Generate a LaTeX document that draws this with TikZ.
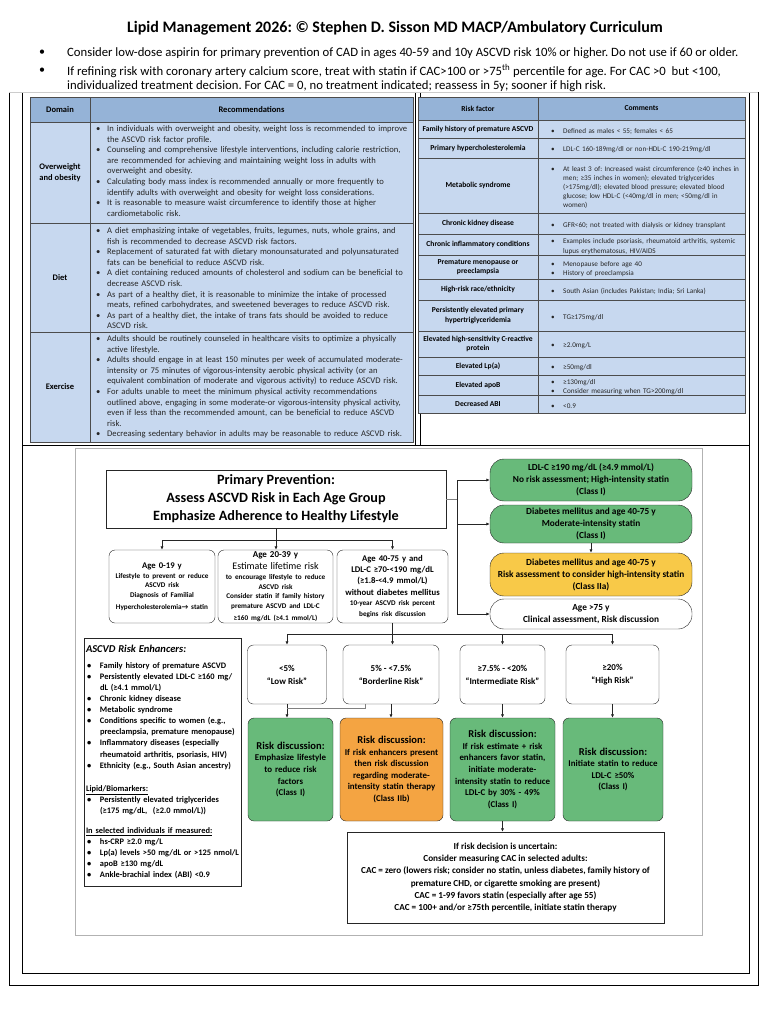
\documentclass[tikz,border=0pt]{standalone}
\usepackage{fontspec}
\setmainfont{Carlito}
\usetikzlibrary{arrows.meta}
\setlength\parindent{0pt}
\frenchspacing

\definecolor{hdrblue}{RGB}{149,179,215}
\definecolor{cellblue}{RGB}{199,216,239}
\definecolor{riskgreen}{RGB}{104,186,122}
\definecolor{riskorange}{RGB}{244,164,66}
\definecolor{riskyellow}{RGB}{248,201,72}

% bullets with hanging indent, for the tables and the enhancer list
\newcommand\tb{\par\hangindent=11pt\hangafter=1\noindent\hbox to 11pt{\textbullet\hfil}}
\newcommand\rb{\par\hangindent=12pt\hangafter=1\noindent\hbox to 12pt{\textbullet\hfil}}
\newcommand\eb{\par\hangindent=14pt\hangafter=1\noindent\hbox to 14pt{\hspace{1pt}\textbullet\hfil}}
\newcommand\nl{\newline}
\newcommand\sm{\fontsize{7.2}{9.7}\selectfont}
\newcommand\md{\fontsize{8.7}{11.4}\selectfont}
\newcommand\rd{\fontsize{10.5}{13.5}\selectfont}

\begin{document}
\begin{tikzpicture}[x=1pt, y=-1pt, >={Latex[length=3.5pt,width=3.2pt]},
	every node/.style={inner sep=0pt},
	tabcell/.style={anchor=north west, align=left, text=black!85, font=\fontsize{8.6}{10.55}\selectfont},
	rcell/.style={anchor=west, align=left, text=black!85, text width=192pt, font=\fontsize{7.2}{9.2}\selectfont},
	lab/.style={align=center, font=\fontsize{7.6}{9.2}\selectfont\bfseries},
	llab/.style={align=center, font=\fontsize{8.5}{10.5}\selectfont\bfseries},
	box/.style={draw=black!85, rounded corners=6pt, align=center, font=\fontsize{8.9}{11.6}\selectfont\bfseries},
	pill/.style={draw=black!85, rounded corners=14pt, minimum width=202pt, align=center, font=\fontsize{9.3}{12}\selectfont\bfseries},
	link/.style={black!85, line width=0.8pt}]
	\useasboundingbox (0,0) rectangle (768,1024);

	% page frame
	\draw[line width=0.9pt] (9,92) -- (9,985) -- (758,985) -- (758,92);
	\draw[line width=0.9pt] (22,445) rectangle (749,973);
	\draw[line width=0.9pt] (22,445) -- (22,92);
	\draw[line width=0.9pt] (415,92) -- (415,445);
	\draw[line width=0.9pt] (420,92) -- (420,445);
	\draw[line width=0.9pt] (749,92) -- (749,445);
	\draw[gray!40] (9,92) -- (758,92);

	% heading
	\node (head) at (395,28) {\fontsize{16}{18}\selectfont\bfseries Lipid Management 2026: © Stephen D. Sisson MD MACP/Ambulatory Curriculum};
	\node (bu1) at (42,53) {\fontsize{12}{15}\selectfont\textbullet};
	\node (bu2) at (42,71) {\fontsize{12}{15}\selectfont\textbullet};
	\node[anchor=west, font=\fontsize{12.7}{15}\selectfont] (aspirin) at (67,53) {Consider low-dose aspirin for primary prevention of CAD in ages 40-59 and 10y ASCVD risk 10\% or higher. Do not use if 60 or older.};
	\node[anchor=west, font=\fontsize{12.7}{15}\selectfont] (cacone) at (67,71) {If refining risk with coronary artery calcium score, treat with statin if CAC>100 or >75\textsuperscript{th} percentile for age. For CAC >0~ but <100,};
	\node[anchor=west, font=\fontsize{12.7}{15}\selectfont] (cactwo) at (67,86) {individualized treatment decision. For CAC = 0, no treatment indicated; reassess in 5y; sooner if high risk.};

	% lifestyle table
	\fill[cellblue] (30,122) rectangle (413,442);
	\fill[hdrblue] (30,97) rectangle (413,122);
	\draw[black!70] (30,97) rectangle (413,442);
	\draw[black!70] (90,97) -- (90,442);
	\foreach \y in {122,223,332} \draw[black!70] (30,\y) -- (413,\y);
	\node[llab] (dom) at (60,109.5) {Domain};
	\node[llab] (rec) at (251.5,109.5) {Recommendations};
	\node[llab] (ow) at (60,172.5) {Overweight\\and obesity};
	\node[llab] (diet) at (60,277.5) {Diet};
	\node[llab] (exer) at (60,387) {Exercise};
	\node[tabcell, text width=316pt] (owtxt) at (96,121) {%
		\tb In individuals with overweight and obesity, weight loss is recommended to improve\nl the ASCVD risk factor profile.
		\tb Counseling and comprehensive lifestyle interventions, including calorie restriction,\nl are recommended for achieving and maintaining weight loss in adults with\nl overweight and obesity.
		\tb Calculating body mass index is recommended annually or more frequently to\nl identify adults with overweight and obesity for weight loss considerations.
		\tb It is reasonable to measure waist circumference to identify those at higher\nl cardiometabolic risk.\par};
	\node[tabcell, text width=316pt] (diettxt) at (96,223) {%
		\tb A diet emphasizing intake of vegetables, fruits, legumes, nuts, whole grains, and\nl fish is recommended to decrease ASCVD risk factors.
		\tb Replacement of saturated fat with dietary monounsaturated and polyunsaturated\nl fats can be beneficial to reduce ASCVD risk.
		\tb A diet containing reduced amounts of cholesterol and sodium can be beneficial to\nl decrease ASCVD risk.
		\tb As part of a healthy diet, it is reasonable to minimize the intake of processed\nl meats, refined carbohydrates, and sweetened beverages to reduce ASCVD risk.
		\tb As part of a healthy diet, the intake of trans fats should be avoided to reduce\nl ASCVD risk.\par};
	\node[tabcell, text width=316pt] (exertxt) at (96,331) {%
		\tb Adults should be routinely counseled in healthcare visits to optimize a physically\nl active lifestyle.
		\tb Adults should engage in at least 150 minutes per week of accumulated moderate-\nl intensity or 75 minutes of vigorous-intensity aerobic physical activity (or an\nl equivalent combination of moderate and vigorous activity) to reduce ASCVD risk.
		\tb For adults unable to meet the minimum physical activity recommendations\nl outlined above, engaging in some moderate-or vigorous-intensity physical activity,\nl even if less than the recommended amount, can be beneficial to reduce ASCVD\nl risk.
		\tb Decreasing sedentary behavior in adults may be reasonable to reduce ASCVD risk.\par};

	% risk factor table
	\fill[cellblue] (418,120) rectangle (745,413);
	\fill[hdrblue] (418,97) rectangle (745,120);
	\draw[black!70] (418,97) rectangle (745,413);
	\draw[black!70] (538,97) -- (538,413);
	\foreach \y in {120,138,158,213,234,255,279,300,331,357,375,395} \draw[black!70] (418,\y) -- (745,\y);
	\node[lab] (rfh) at (478,108.5) {Risk factor};
	\node[lab] (cmh) at (641.5,108.5) {Comments};
	\node[lab] (rf1) at (478,129) {Family history of premature ASCVD};
	\node[lab] (rf2) at (478,148) {Primary hypercholesterolemia};
	\node[lab] (rf3) at (478,185.5) {Metabolic syndrome};
	\node[lab] (rf4) at (478,223.5) {Chronic kidney disease};
	\node[lab] (rf5) at (478,244.5) {Chronic inflammatory conditions};
	\node[lab] (rf6) at (478,267) {Premature menopause or\\preeclampsia};
	\node[lab] (rf7) at (478,289.5) {High-risk race/ethnicity};
	\node[lab] (rf8) at (478,315.5) {Persistently elevated primary\\hypertriglyceridemia};
	\node[lab] (rf9) at (478,344) {Elevated high-sensitivity C-reactive\\protein};
	\node[lab] (rf10) at (478,366) {Elevated Lp(a)};
	\node[lab] (rf11) at (478,385) {Elevated apoB};
	\node[lab] (rf12) at (478,404) {Decreased ABI};
	\node[rcell] (cm1) at (551,129) {\rb Defined as males < 55; females < 65\par};
	\node[rcell] (cm2) at (551,148) {\rb LDL-C 160-189mg/dl or non-HDL-C 190-219mg/dl\par};
	\node[rcell] (cm3) at (551,185.5) {\rb At least 3 of: Increased waist circumference (≥40 inches in\nl men; ≥35 inches in women); elevated triglycerides\nl (>175mg/dl); elevated blood pressure; elevated blood\nl glucose; low HDL-C (<40mg/dl in men; <50mg/dl in\nl women)\par};
	\node[rcell] (cm4) at (551,223.5) {\rb GFR<60; not treated with dialysis or kidney transplant\par};
	\node[rcell] (cm5) at (551,244.5) {\rb Examples include psoriasis, rheumatoid arthritis, systemic\nl lupus erythematosus, HIV/AIDS\par};
	\node[rcell] (cm6) at (551,267) {\rb Menopause before age 40\rb History of preeclampsia\par};
	\node[rcell] (cm7) at (551,289.5) {\rb South Asian (includes Pakistan; India; Sri Lanka)\par};
	\node[rcell] (cm8) at (551,315.5) {\rb TG≥175mg/dl\par};
	\node[rcell] (cm9) at (551,344) {\rb ≥2.0mg/L\par};
	\node[rcell] (cm10) at (551,366) {\rb ≥50mg/dl\par};
	\node[rcell] (cm11) at (551,385) {\rb ≥130mg/dl\rb Consider measuring when TG>200mg/dl\par};
	\node[rcell] (cm12) at (551,404) {\rb <0.9\par};

	% flowchart
	\draw[gray!60] (75,448) rectangle (702,935);
	\node[draw=black!85, minimum width=340pt, minimum height=58pt, align=center, font=\fontsize{14.2}{18}\selectfont\bfseries] (prim) at (276,499) {Primary Prevention:\\Assess ASCVD Risk in Each Age Group\\Emphasize Adherence to Healthy Lifestyle};

	\node[pill, fill=riskgreen, minimum height=42pt] (ldl) at (591,480) {LDL-C ≥190 mg/dL (≥4.9 mmol/L)\\No risk assessment; High-intensity statin\\(Class I)};
	\node[pill, fill=riskgreen, minimum height=38pt] (dmmod) at (591,524) {Diabetes mellitus and age 40-75 y\\Moderate-intensity statin\\(Class I)};
	\node[pill, fill=riskyellow, minimum height=43pt] (dmhigh) at (591,574.5) {Diabetes mellitus and age 40-75 y\\Risk assessment to consider high-intensity statin\\(Class IIa)};
	\node[pill, minimum height=30pt] (old) at (591,614) {Age >75 y\\Clinical assessment, Risk discussion};
	\coordinate (trunk) at ([xshift=11pt]prim.east);
	\draw[link, black!50] (prim.east) -- (trunk);
	\draw[link, ->] (trunk) |- (ldl.west);
	\draw[link, ->] (trunk) |- (dmmod.west);
	\draw[link, ->] (trunk) |- (old.west);
	\draw[link, ->] (dmmod.south) -- (dmhigh.north);

	\node[box, minimum width=106pt, minimum height=73pt, text width=104pt] (age1) at (162,586.5) {{\md Age 0-19 y\par}\sm Lifestyle to prevent or reduce\\ASCVD risk\\Diagnosis of Familial\\Hypercholesterolemia→ statin};
	\node[box, minimum width=115pt, minimum height=73pt, text width=113pt] (age2) at (275.5,586.5) {{\fontsize{9}{10}\selectfont Age 20-39 y\par}{\fontsize{10}{12.2}\selectfont\mdseries Estimate lifetime risk\par}\sm to encourage lifestyle to reduce\\ASCVD risk\\Consider statin if family history\\premature ASCVD and LDL-C\\≥160 mg/dL (≥4.1 mmol/L)};
	\node[box, minimum width=111pt, minimum height=73pt, text width=109pt] (age3) at (392.5,586.5) {{\md Age 40-75 y and\\LDL-C ≥70-<190 mg/dL\\(≥1.8-<4.9 mmol/L)\\without diabetes mellitus\par}\sm 10-year ASCVD risk percent\\begins risk discussion};
	\draw[link] (prim.south) -- ++(0,12) coordinate (agebus);
	\draw[link, ->] (agebus) -| (age1.north);
	\draw[link, ->] (agebus) -| (age3.north);
	\draw[link, ->] (agebus) -- (agebus |- age2.north);

	\node[box, minimum width=79pt, minimum height=59pt, font=\fontsize{9}{13}\selectfont\bfseries] (low) at (287,674.5) {<5\%\\“Low Risk”};
	\node[box, minimum width=96pt, minimum height=59pt, font=\fontsize{9}{13}\selectfont\bfseries] (border) at (391,674.5) {5\% - <7.5\%\\“Borderline Risk”};
	\node[box, minimum width=85pt, minimum height=59pt, font=\fontsize{9}{13}\selectfont\bfseries] (inter) at (502.5,674.5) {≥7.5\% - <20\%\\“Intermediate Risk”};
	\node[box, minimum width=93pt, minimum height=59pt, font=\fontsize{9}{13}\selectfont\bfseries] (high) at (612.5,674.5) {≥20\%\\“High Risk”};
	\draw[link] (age3.south) -- ++(0,11) coordinate (riskbus);
	\draw[link, ->] (riskbus) -| (low.north);
	\draw[link, ->] (riskbus) -| (inter.north);
	\draw[link, ->] (riskbus) -| (high.north);
	\draw[link, ->] (riskbus) -- (riskbus |- border.north);

	\node[box, fill=riskgreen, minimum width=85pt, minimum height=103pt, text width=84pt] (lowact) at (290.5,769.5) {{\rd Risk discussion:\par}Emphasize lifestyle\\to reduce risk\\factors\\(Class I)};
	\node[box, fill=riskorange, minimum width=103pt, minimum height=103pt, text width=102pt] (bordact) at (391.5,769.5) {{\rd Risk discussion:\par}If risk enhancers present\\then risk discussion\\regarding moderate-\\intensity statin therapy\\(Class IIb)};
	\node[box, fill=riskgreen, minimum width=105pt, minimum height=103pt, text width=104pt] (interact) at (502.5,769.5) {{\rd Risk discussion:\par}If risk estimate + risk\\enhancers favor statin,\\initiate moderate-\\intensity statin to reduce\\LDL-C by 30\% - 49\%\\(Class I)};
	\node[box, fill=riskgreen, minimum width=100pt, minimum height=103pt, text width=99pt] (highact) at (613,769.5) {{\rd Risk discussion:\par}Initiate statin to reduce\\LDL-C ≥50\%\\(Class I)};
	\draw[link, ->] (low.south) -- (low.south |- lowact.north);
	\draw[link, black!50] ([xshift=-26pt]border.south) |- ([yshift=-4pt]low.south);
	\draw[link, ->] (border.south) -- (border.south |- bordact.north);
	\draw[link, ->] (inter.south) -- (inter.south |- interact.north);
	\draw[link, ->] (high.south) -- (high.south |- highact.north);

	\node[draw=black!85, minimum width=317pt, minimum height=91pt, align=center, font=\fontsize{9.2}{12.3}\selectfont\bfseries] (cac) at (505.5,877.5) {If risk decision is uncertain:\\Consider measuring CAC in selected adults:\\CAC = zero (lowers risk; consider no statin, unless diabetes, family history of\\premature CHD, or cigarette smoking are present)\\CAC = 1-99 favors statin (especially after age 55)\\CAC = 100+ and/or ≥75th percentile, initiate statin therapy};
	\draw[link, ->] (interact.south) -- (interact.south |- cac.north);

	\node[draw=black!85, inner xsep=2pt, text width=153pt, minimum height=248pt, align=left, font=\fontsize{8.4}{11.1}\selectfont\bfseries] (enh) at (162.5,762) {%
		{\fontsize{10.5}{12}\selectfont\itshape ASCVD Risk Enhancers:\par}\vspace{5pt}
		\eb Family history of premature ASCVD
		\eb Persistently elevated LDL-C ≥160 mg/\nl dL (≥4.1 mmol/L)
		\eb Chronic kidney disease
		\eb Metabolic syndrome
		\eb Conditions specific to women (e.g.,\nl preeclampsia, premature menopause)
		\eb Inflammatory diseases (especially\nl rheumatoid arthritis, psoriasis, HIV)
		\eb Ethnicity (e.g., South Asian ancestry)
		\par\vspace{12pt}\underline{Lipid/Biomarkers:}
		\eb Persistently elevated triglycerides\nl (≥175 mg/dL,~ (≥2.0 mmol/L))
		\par\vspace{9pt}\underline{In selected individuals if measured:}
		\eb hs-CRP ≥2.0 mg/L
		\eb Lp(a) levels >50 mg/dL or >125 nmol/L
		\eb apoB ≥130 mg/dL
		\eb Ankle-brachial index (ABI) <0.9\par};
\end{tikzpicture}
\end{document}
